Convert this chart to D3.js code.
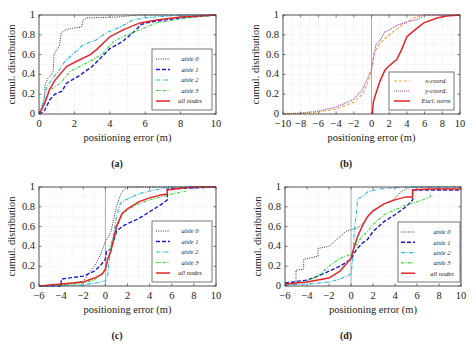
<!DOCTYPE html>
<html><head><meta charset="utf-8">
<script src="https://cdn.jsdelivr.net/npm/d3@7"></script>
<style>body{margin:0;background:#fff}svg{display:block}</style>
</head><body>
<svg id="c" width="474" height="345"></svg>
<script>
// ---- data ----
const yTicks = [0, 0.2, 0.4, 0.6, 0.8, 1];
const yTickLabels = ["0", "0.2", "0.4", "0.6", "0.8", "1"];
const xTicksA = [0, 2, 4, 6, 8, 10];
const xTicksB = [-10, -8, -6, -4, -2, 0, 2, 4, 6, 8, 10];
const xTicksCD = [-6, -4, -2, 0, 2, 4, 6, 8, 10];
const aisleNames = ["aisle 0", "aisle 1", "aisle 2", "aisle 3", "all nodes"];
const coordNames = ["x-coord.", "y-coord.", "Eucl. norm"];
const panelLabels = ["(a)", "(b)", "(c)", "(d)"];

const a_aisle0 = [[0,0],[0.2,0.05],[0.3,0.15],[0.35,0.3],[0.5,0.36],[0.7,0.4],[0.8,0.43],[0.85,0.6],[1.0,0.65],[1.15,0.68],[1.25,0.82],[1.5,0.85],[2.0,0.87],[2.4,0.88],[2.5,0.95],[2.7,0.97],[4.5,0.98],[5.5,1],[10,1]];
const a_aisle1 = [[0,0],[0.3,0.03],[0.6,0.14],[0.9,0.2],[1.3,0.23],[1.55,0.31],[2.3,0.39],[3.0,0.48],[3.45,0.56],[4.0,0.66],[4.7,0.73],[5.3,0.82],[5.6,0.87],[5.7,0.9],[6.3,0.93],[8,0.97],[10,1]];
const a_aisle2 = [[0,0],[0.2,0.1],[0.43,0.27],[0.8,0.37],[1.1,0.43],[1.45,0.53],[1.95,0.61],[2.5,0.70],[3.25,0.75],[3.8,0.82],[4.6,0.88],[5.3,0.95],[5.9,0.97],[8,1],[10,1]];
const a_aisle3 = [[0,0],[0.3,0.1],[0.6,0.24],[1.2,0.31],[1.75,0.43],[2.3,0.48],[3.05,0.55],[3.6,0.61],[4.2,0.73],[4.95,0.80],[5.7,0.85],[6.65,0.92],[8.3,0.97],[10,1]];
const a_all = [[0,0],[0.3,0.1],[0.6,0.25],[0.9,0.34],[1.55,0.48],[2.1,0.53],[2.9,0.60],[3.25,0.65],[4.0,0.78],[4.75,0.85],[5.7,0.92],[6.65,0.95],[8,0.98],[10,1]];

const b_x = [[-10,0],[-8,0.005],[-6,0.02],[-4,0.05],[-2,0.12],[-1,0.2],[-0.5,0.3],[0,0.45],[0.3,0.62],[1,0.72],[2,0.8],[3,0.87],[4,0.93],[5,0.98],[6,1],[10,1]];
const b_y = [[-10,0],[-8,0.01],[-6,0.03],[-4,0.07],[-2,0.15],[-1,0.25],[-0.5,0.35],[0,0.45],[0.3,0.6],[0.5,0.7],[1,0.75],[1.5,0.83],[2,0.85],[3,0.9],[4,0.93],[5,0.95],[5.5,0.97],[6,1],[10,1]];
const b_norm = [[0.1,0],[0.2,0.12],[0.4,0.18],[0.95,0.33],[1.5,0.44],[1.9,0.48],[2.85,0.55],[3.4,0.65],[4,0.78],[4.9,0.85],[5.9,0.92],[7.4,0.97],[8.5,0.99],[10,1]];

const c_aisle0 = [[-6,0],[-4,0.01],[-2,0.05],[-1,0.2],[-0.5,0.3],[0,0.45],[0.3,0.5],[0.5,0.55],[0.8,0.7],[1,0.8],[1.3,0.9],[1.5,0.95],[2,1],[10,1]];
const c_aisle1 = [[-6,0],[-4,0],[-4,0.07],[-2,0.1],[-1,0.15],[-0.5,0.2],[0,0.27],[0.1,0.35],[0.5,0.37],[1,0.55],[1.5,0.6],[2,0.63],[3,0.68],[4,0.75],[5,0.82],[5.6,0.87],[5.6,0.98],[10,1]];
const c_aisle2 = [[-6,0],[-2,0.01],[0,0.05],[0.2,0.1],[0.3,0.2],[0.5,0.4],[0.8,0.55],[1,0.7],[1.3,0.82],[1.5,0.85],[2,0.88],[3,0.93],[4,0.96],[5,0.98],[5.6,1],[10,1]];
const c_aisle3 = [[-6,0],[-4,0.01],[-2,0.03],[-1,0.06],[0,0.15],[0.3,0.3],[0.5,0.42],[1,0.58],[1.5,0.72],[2,0.77],[3,0.83],[4,0.87],[5,0.9],[6,0.93],[7.3,0.96]];
const c_all = [[-6,0],[-4,0.02],[-2,0.04],[-1,0.08],[-0.3,0.12],[0,0.17],[0.2,0.27],[0.5,0.35],[0.7,0.45],[1,0.6],[1.5,0.73],[2,0.78],[3,0.85],[4,0.89],[5,0.92],[5.6,0.93],[5.6,0.97],[7,0.99],[8,1],[10,1]];

const d_aisle0 = [[-6,0.02],[-5,0.02],[-5,0.16],[-4.3,0.17],[-4.3,0.27],[-3,0.3],[-3,0.38],[-2,0.4],[-1.5,0.45],[-1,0.5],[-0.5,0.55],[0,0.57],[0.5,0.58],[1,0.62],[1.5,0.7],[2,0.75],[3,0.83],[4,0.88],[4.5,0.95],[5,0.98],[5.5,1],[10,1]];
const d_aisle1 = [[-6,0.03],[-4,0.06],[-3,0.1],[-2,0.15],[-1,0.2],[0,0.27],[0.5,0.37],[1,0.43],[1.5,0.47],[2,0.55],[3,0.65],[4,0.72],[5,0.8],[5.6,0.87],[5.6,0.97],[10,0.97]];
const d_aisle2 = [[-6,0.01],[-4,0.02],[-2,0.04],[-1,0.07],[0,0.12],[0.2,0.3],[0.3,0.55],[0.5,0.75],[0.6,0.88],[1,0.9],[1.5,0.95],[2.5,0.98],[5,1],[10,1]];
const d_aisle3 = [[-6,0.01],[-4,0.05],[-3,0.1],[-2,0.2],[-1,0.28],[0,0.32],[0.5,0.42],[1,0.5],[1.5,0.55],[2,0.62],[3,0.72],[4,0.77],[5,0.82],[6,0.85],[7.2,0.9],[7.2,0.94]];
const d_all = [[-6,0.02],[-4,0.04],[-2,0.08],[-1,0.15],[0,0.28],[0.3,0.4],[0.6,0.5],[1,0.6],[1.5,0.7],[2,0.76],[3,0.83],[4,0.87],[5,0.9],[5.6,0.9],[5.6,0.97],[7,0.98],[10,0.98]];

// ---- styles ----
const aisleStyles = [
  {color:"#333", width:1, dash:"1,1.3"},
  {color:"#1a1ad8", width:1.4, dash:"4,2"},
  {color:"#2cb4e6", width:1.1, dash:"4,1.5,1,1.5"},
  {color:"#3ad63a", width:1.1, dash:"3,1.5,1,1.5"},
  {color:"#e3262b", width:1.5, dash:null}
];
const coordStyles = [
  {color:"#f0a848", width:1.2, dash:"3,2"},
  {color:"#a44cc8", width:1.2, dash:"1,1"},
  {color:"#e3262b", width:1.5, dash:null}
];

const svg = d3.select("#c");
const FONT = "'Liberation Serif', 'DejaVu Serif', serif";

function panel(cfg) {
  const x = d3.scaleLinear().domain(cfg.xDomain).range([cfg.left, cfg.right]);
  const y = d3.scaleLinear().domain([0, 1]).range([cfg.bottom, cfg.top]);
  const g = svg.append("g");
  // grid
  const gx = d3.range(cfg.xDomain[0], cfg.xDomain[1] + 0.001, 1);
  const gy = d3.range(0, 1.001, 0.1);
  g.selectAll(".gx").data(gx).join("line")
    .attr("x1", d => x(d)).attr("x2", d => x(d)).attr("y1", cfg.top).attr("y2", cfg.bottom)
    .attr("stroke", "#e4e4e4").attr("stroke-width", 0.6).attr("stroke-dasharray", "1,1");
  g.selectAll(".gy").data(gy).join("line")
    .attr("y1", d => y(d)).attr("y2", d => y(d)).attr("x1", cfg.left).attr("x2", cfg.right)
    .attr("stroke", "#e4e4e4").attr("stroke-width", 0.6).attr("stroke-dasharray", "1,1");
  if (cfg.zeroLine) {
    g.append("line").attr("x1", x(0)).attr("x2", x(0)).attr("y1", cfg.top).attr("y2", cfg.bottom)
      .attr("stroke", "#9a9a9a").attr("stroke-width", 0.8);
  }
  // series
  const line = d3.line().x(d => x(d[0])).y(d => y(d[1]));
  const clipId = "clip" + cfg.id;
  svg.append("clipPath").attr("id", clipId).append("rect")
    .attr("x", cfg.left).attr("y", cfg.top - 1).attr("width", cfg.right - cfg.left).attr("height", cfg.bottom - cfg.top + 2);
  const sg = g.append("g").attr("clip-path", `url(#${clipId})`);
  cfg.series.forEach((s, i) => {
    const st = cfg.styles[i];
    sg.append("path").attr("d", line(s)).attr("fill", "none")
      .attr("stroke", st.color).attr("stroke-width", st.width)
      .attr("stroke-dasharray", st.dash);
  });
  // frame
  g.append("rect").attr("x", cfg.left).attr("y", cfg.top).attr("width", cfg.right - cfg.left)
    .attr("height", cfg.bottom - cfg.top).attr("fill", "none").attr("stroke", "#444").attr("stroke-width", 0.9);
  // ticks inside
  g.selectAll(".xt").data(cfg.xTicks).join("path")
    .attr("d", d => `M${x(d)},${cfg.bottom}v-2.5M${x(d)},${cfg.top}v2.5`)
    .attr("stroke", "#444").attr("stroke-width", 0.7);
  g.selectAll(".yt").data(yTicks).join("path")
    .attr("d", d => `M${cfg.left},${y(d)}h2.5M${cfg.right},${y(d)}h-2.5`)
    .attr("stroke", "#444").attr("stroke-width", 0.7);
  // tick labels
  g.selectAll(".xl").data(cfg.xTicks).join("text")
    .attr("x", d => x(d)).attr("y", cfg.bottom + 13)
    .attr("text-anchor", "middle").attr("font-family", FONT).attr("font-size", 10.5).attr("fill", "#222")
    .text(d => d < 0 ? "\u2212" + Math.abs(d) : String(d));
  g.selectAll(".yl").data(yTicks).join("text")
    .attr("x", cfg.left - 4).attr("y", d => y(d) + 3)
    .attr("text-anchor", "end").attr("font-family", FONT).attr("font-size", 10.5).attr("fill", "#222")
    .text((d, i) => yTickLabels[i]);
  // axis labels
  g.append("text").attr("x", (cfg.left + cfg.right) / 2).attr("y", cfg.bottom + 27)
    .attr("text-anchor", "middle").attr("font-family", FONT).attr("font-size", 10.5).attr("fill", "#222")
    .text("positioning error (m)");
  g.append("text").attr("transform", `translate(${cfg.left - 24},${(cfg.top + cfg.bottom) / 2}) rotate(-90)`)
    .attr("text-anchor", "middle").attr("font-family", FONT).attr("font-size", 10.5).attr("fill", "#222")
    .text("cumul. distribution");
  g.append("text").attr("x", cfg.labelX).attr("y", cfg.bottom + 53)
    .attr("text-anchor", "middle").attr("font-family", FONT).attr("font-size", 10).attr("font-weight", "bold").attr("fill", "#222")
    .text(cfg.label);
  // legend
  const L = cfg.legend;
  const lg = g.append("g");
  lg.append("rect").attr("x", L.x).attr("y", L.y).attr("width", L.w).attr("height", L.h)
    .attr("fill", "#fff").attr("stroke", "#555").attr("stroke-width", 0.8);
  cfg.names.forEach((n, i) => {
    const st = cfg.styles[i];
    const yy = L.y + L.pad + i * L.step;
    lg.append("line").attr("x1", L.x + L.lx0).attr("x2", L.x + L.lx1).attr("y1", yy).attr("y2", yy)
      .attr("stroke", st.color).attr("stroke-width", st.width).attr("stroke-dasharray", st.dash);
    lg.append("text").attr("x", L.x + L.tx).attr("y", yy + 2.3).attr("text-anchor", "middle")
      .attr("font-family", FONT).attr("font-size", 6.5).attr("font-style", "italic").attr("fill", "#222").text(n);
  });
}

panel({id:"a", left:39, right:216, top:15, bottom:114, xDomain:[0,10], xTicks:xTicksA,
  series:[a_aisle0, a_aisle1, a_aisle2, a_aisle3, a_all], styles:aisleStyles, names:aisleNames,
  zeroLine:false, label:panelLabels[0], labelX:117,
  legend:{x:152, y:49, w:60, h:61, pad:10, step:10.5, lx0:4, lx1:18, tx:38}});
panel({id:"b", left:283, right:460, top:15, bottom:114, xDomain:[-10,10], xTicks:xTicksB,
  series:[b_x, b_y, b_norm], styles:coordStyles, names:coordNames,
  zeroLine:true, label:panelLabels[1], labelX:346,
  legend:{x:389, y:72, w:65, h:38, pad:9, step:10, lx0:5, lx1:21, tx:47}});
panel({id:"c", left:39, right:216, top:187, bottom:286, xDomain:[-6,10], xTicks:xTicksCD,
  series:[c_aisle0, c_aisle1, c_aisle2, c_aisle3, c_all], styles:aisleStyles, names:aisleNames,
  zeroLine:true, label:panelLabels[2], labelX:117,
  legend:{x:152, y:221, w:60, h:61, pad:10, step:10.5, lx0:4, lx1:18, tx:38}});
panel({id:"d", left:285, right:461, top:187, bottom:286, xDomain:[-6,10], xTicks:xTicksCD,
  series:[d_aisle0, d_aisle1, d_aisle2, d_aisle3, d_all], styles:aisleStyles, names:aisleNames,
  zeroLine:true, label:panelLabels[3], labelX:346,
  legend:{x:398, y:222, w:62, h:60, pad:10, step:10.3, lx0:3, lx1:17, tx:44}});
</script>
</body></html>
